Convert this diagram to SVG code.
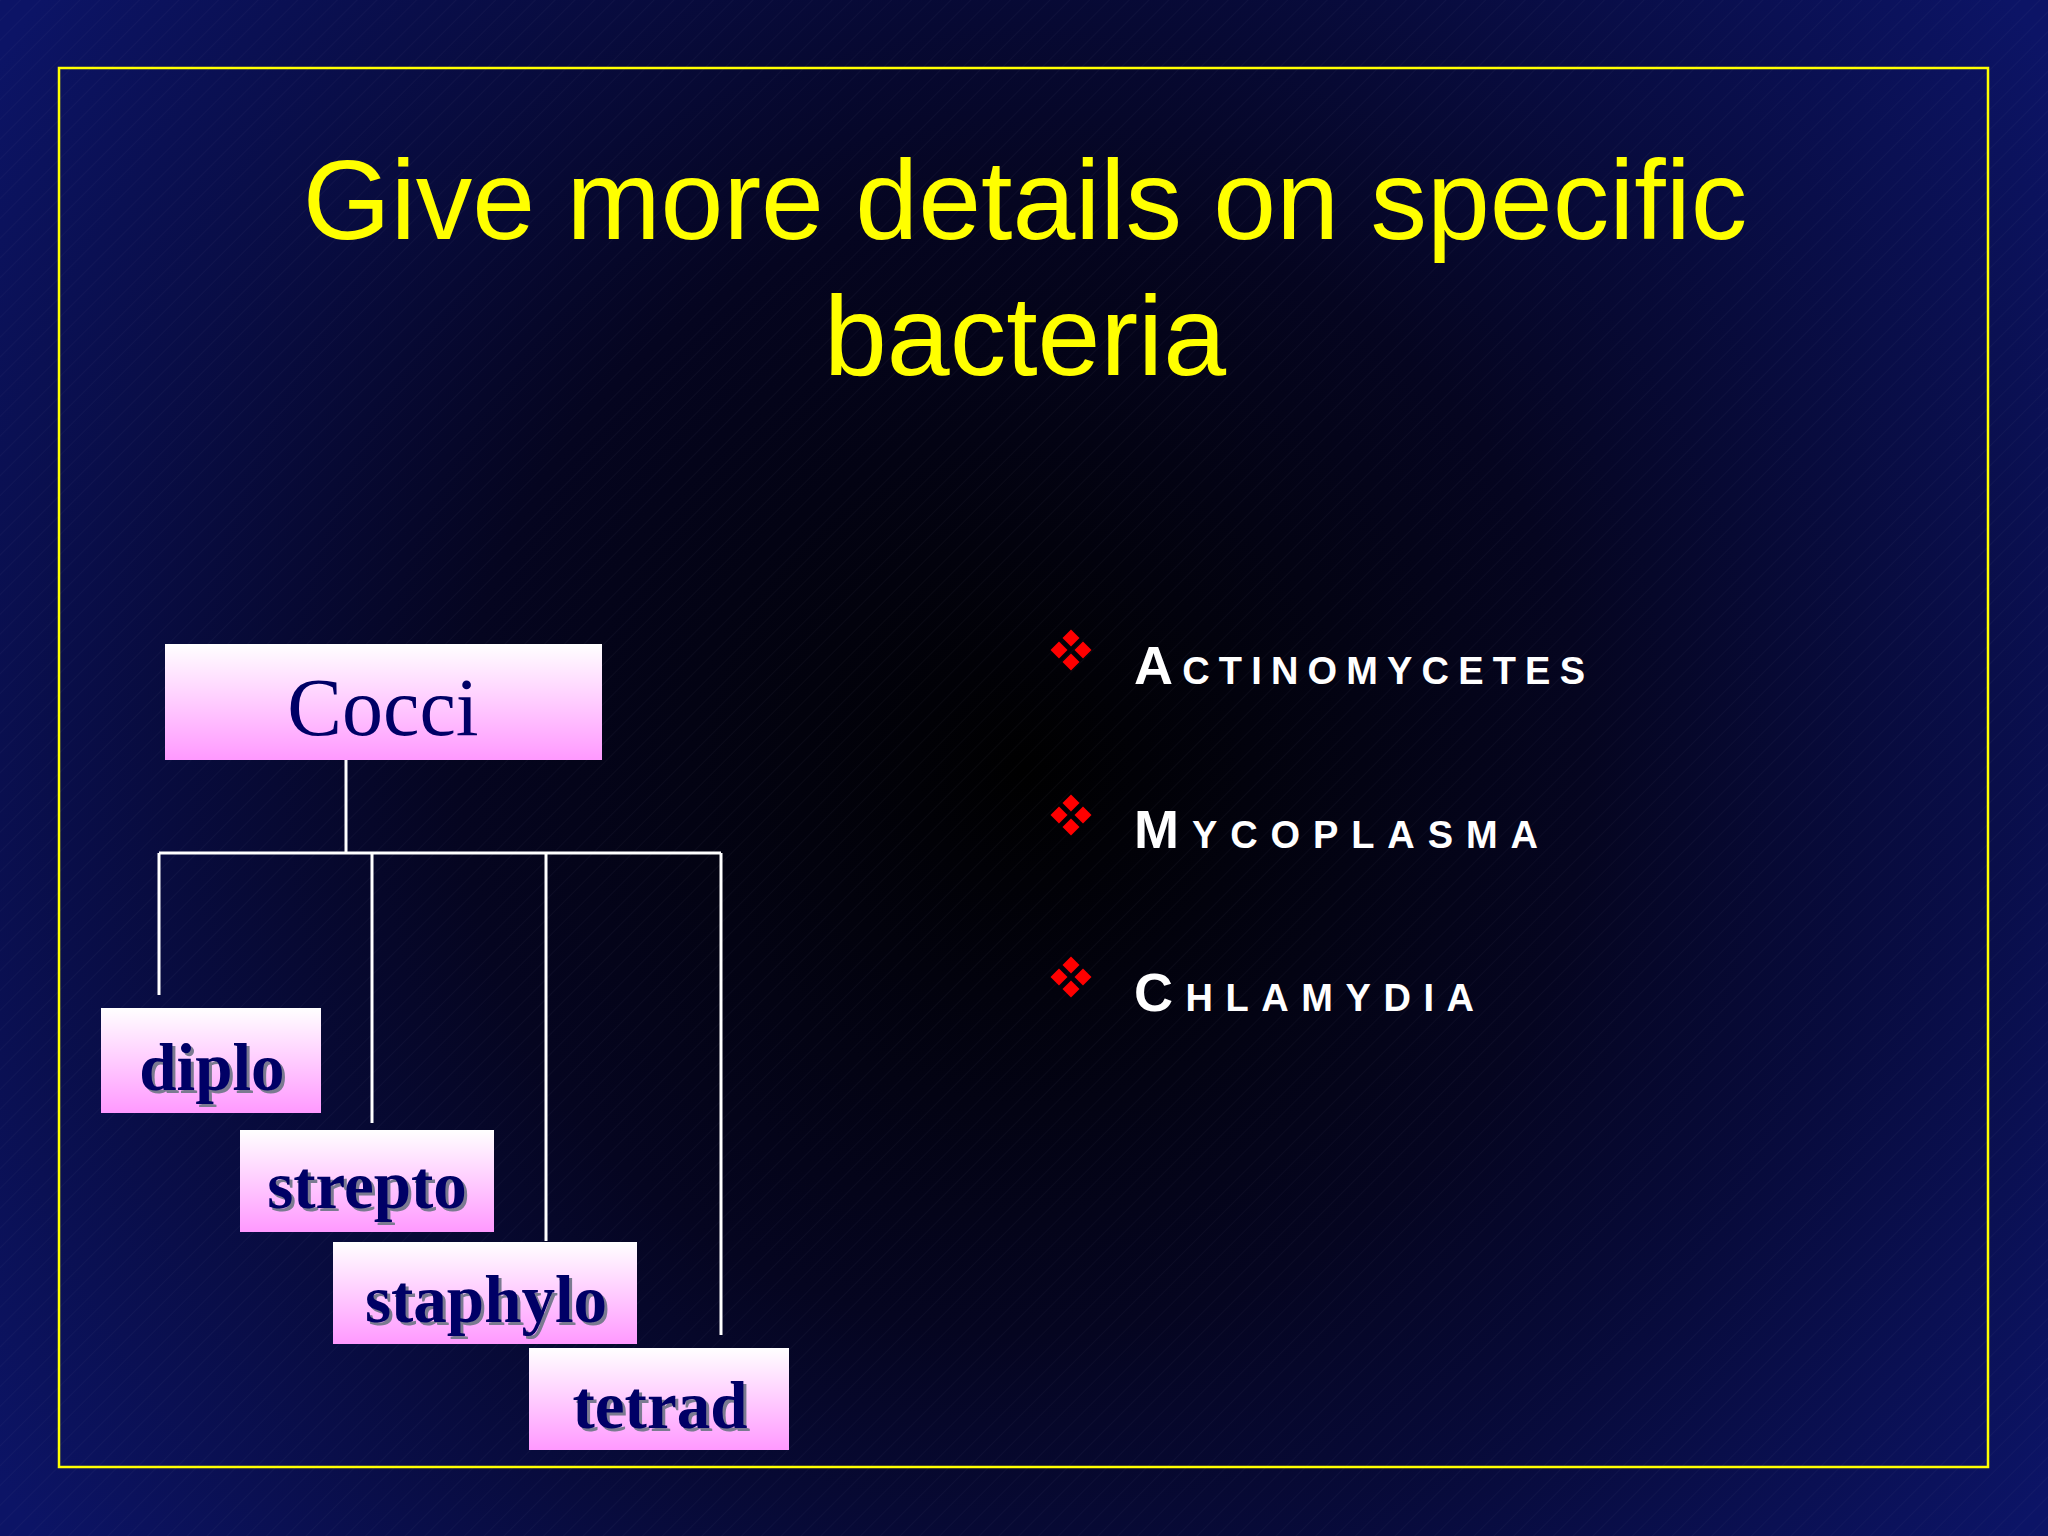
<svg xmlns="http://www.w3.org/2000/svg" width="2048" height="1536" viewBox="0 0 2048 1536">
<defs>
<radialGradient id="bg" cx="1025" cy="770" r="1250" gradientUnits="userSpaceOnUse">
<stop offset="0" stop-color="#000000"/>
<stop offset="0.45" stop-color="#050520"/>
<stop offset="1" stop-color="#0c1466"/>
</radialGradient>
<linearGradient id="box" x1="0" y1="0" x2="0" y2="1">
<stop offset="0" stop-color="#ffffff"/>
<stop offset="1" stop-color="#ff99ff"/>
</linearGradient>
<pattern id="hatch" width="14" height="14" patternUnits="userSpaceOnUse" patternTransform="rotate(45)">
<line x1="0" y1="0" x2="0" y2="14" stroke="#8080a0" stroke-width="1"/>
</pattern>
<g id="bul">
<rect x="-6" y="-6" width="12" height="12" transform="translate(0,-12) rotate(45)"/>
<rect x="-6" y="-6" width="12" height="12" transform="translate(0,12) rotate(45)"/>
<rect x="-6" y="-6" width="12" height="12" transform="translate(-12,0) rotate(45)"/>
<rect x="-6" y="-6" width="12" height="12" transform="translate(12,0) rotate(45)"/>
</g>
</defs>
<style>
.title{font-family:"Liberation Sans",Arial,sans-serif;font-size:113px;fill:#ffff00;text-anchor:middle}
.bx{fill:url(#box)}
.lbl{font-family:"Liberation Serif","Times New Roman",serif;fill:#000066;text-anchor:middle}
.bold{font-weight:bold;font-size:67px}
.sh{fill:#7a7a90}
.item{font-family:"Liberation Sans",Arial,sans-serif;font-weight:bold;font-size:54px;fill:#ffffff;font-variant:small-caps}
.conn line{stroke:#ffffff;stroke-width:3}
</style>
<rect width="2048" height="1536" fill="url(#bg)"/>
<rect width="2048" height="1536" fill="url(#hatch)" opacity="0.12"/>
<rect x="59" y="68" width="1929" height="1399" fill="none" stroke="#ffff00" stroke-width="2.5"/>
<g id="title">
<text class="title" x="1025" y="239">Give more details on specific</text>
<text class="title" x="1025" y="375">bacteria</text>
</g>
<g class="conn" id="connectors">
<line x1="346" y1="760" x2="346" y2="853"/>
<line x1="159" y1="853" x2="721" y2="853"/>
<line x1="159" y1="853" x2="159" y2="995"/>
<line x1="372" y1="853" x2="372" y2="1123"/>
<line x1="546" y1="853" x2="546" y2="1241"/>
<line x1="721" y1="853" x2="721" y2="1335"/>
</g>
<g id="cocci">
<rect class="bx" x="165" y="644" width="437" height="116"/>
<text class="lbl" x="383" y="735" font-size="82">Cocci</text>
</g>
<g id="diplo">
<rect class="bx" x="101" y="1008" width="220" height="105"/>
<text class="lbl bold sh" x="215" y="1093">diplo</text>
<text class="lbl bold" x="212" y="1090">diplo</text>
</g>
<g id="strepto">
<rect class="bx" x="240" y="1130" width="254" height="102"/>
<text class="lbl bold sh" x="370" y="1211">strepto</text>
<text class="lbl bold" x="367" y="1208">strepto</text>
</g>
<g id="staphylo">
<rect class="bx" x="333" y="1242" width="304" height="102"/>
<text class="lbl bold sh" x="489" y="1325">staphylo</text>
<text class="lbl bold" x="486" y="1322">staphylo</text>
</g>
<g id="tetrad">
<rect class="bx" x="529" y="1348" width="260" height="102"/>
<text class="lbl bold sh" x="663" y="1431">tetrad</text>
<text class="lbl bold" x="660" y="1428">tetrad</text>
</g>
<g id="bullets" fill="#ff0000">
<use href="#bul" x="1071" y="650"/>
<use href="#bul" x="1071" y="815"/>
<use href="#bul" x="1071" y="977"/>
</g>
<g id="items">
<text class="item" x="1134" y="684" textLength="451" lengthAdjust="spacing">Actinomycetes</text>
<text class="item" x="1134" y="848" textLength="404" lengthAdjust="spacing">Mycoplasma</text>
<text class="item" x="1134" y="1011" textLength="340" lengthAdjust="spacing">Chlamydia</text>
</g>
</svg>
